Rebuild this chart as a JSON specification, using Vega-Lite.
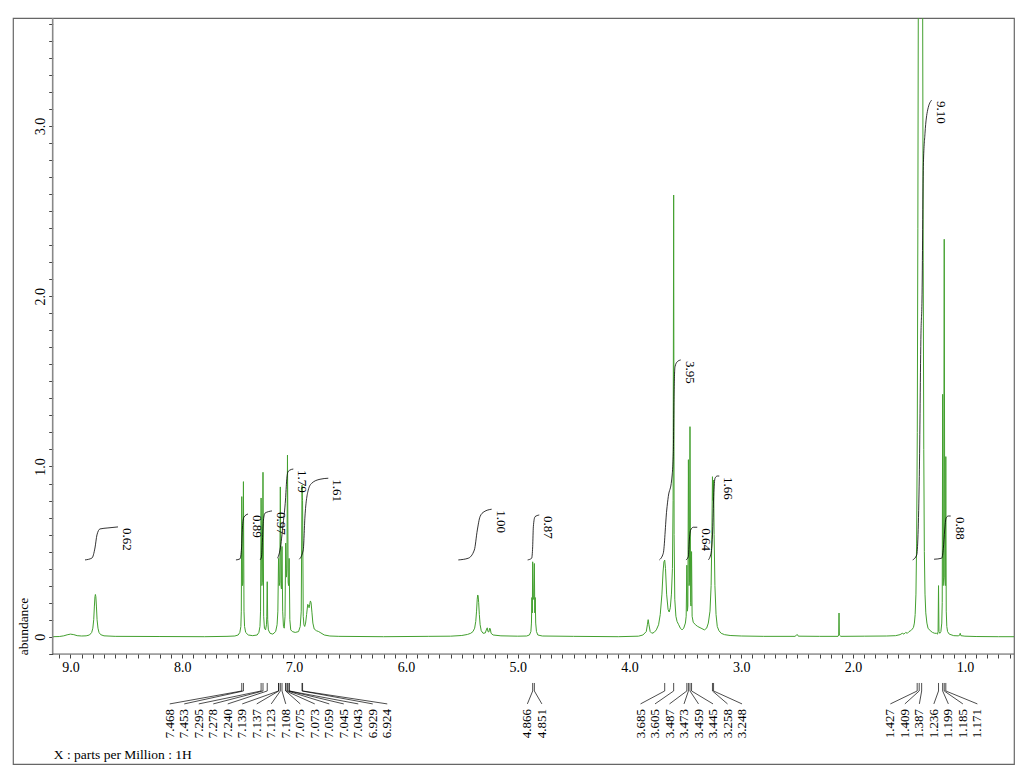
{
"$schema": "https://vega.github.io/schema/vega-lite/v6.json",
"width": 1001, "height": 746,
"autosize": {"type": "none"},
"padding": {"left": 13, "top": 18, "right": 10, "bottom": 13},
"background": "white",
"resolve": {"axis": {"x": "independent", "y": "independent"}},
"config": {
 "view": {"stroke": "#666", "strokeWidth": 1.2},
 "axis": {"grid": false, "domain": false, "tickColor": "#444", "tickWidth": 1, "tickSize": 4, "labelFont": "Liberation Serif", "labelFontSize": 14, "labelColor": "#000", "titleFont": "Liberation Serif", "titleFontSize": 13.5, "titleFontWeight": "normal", "titleColor": "#000", "labelOverlap": false, "labelFlush": false, "labelBound": false}
},
"datasets": {
 "spec": [
  {"p":9.159,"v":0},{"p":9.10,"v":0.001},{"p":9.06,"v":0.005},{"p":9.03,"v":0.011},{"p":9.00,"v":0.015},{"p":8.97,"v":0.012},{"p":8.94,"v":0.006},{"p":8.90,"v":0.004},{"p":8.86,"v":0.005},{"p":8.83,"v":0.01},{"p":8.81,"v":0.025},{"p":8.80,"v":0.05},{"p":8.792,"v":0.1},{"p":8.786,"v":0.18},{"p":8.781,"v":0.235},{"p":8.777,"v":0.248},{"p":8.773,"v":0.235},{"p":8.768,"v":0.18},{"p":8.762,"v":0.1},{"p":8.754,"v":0.05},{"p":8.745,"v":0.025},{"p":8.73,"v":0.012},{"p":8.70,"v":0.005},{"p":8.60,"v":0.002},{"p":8.2,"v":0.001},{"p":7.8,"v":0},{"p":7.6,"v":0.002},{"p":7.53,"v":0.004},{"p":7.50,"v":0.01},{"p":7.485,"v":0.025},{"p":7.476,"v":0.06},{"p":7.472,"v":0.15},{"p":7.468,"v":0.823},{"p":7.462,"v":0.3},{"p":7.458,"v":0.32},{"p":7.453,"v":0.911},{"p":7.448,"v":0.15},{"p":7.443,"v":0.06},{"p":7.433,"v":0.025},{"p":7.41,"v":0.01},{"p":7.37,"v":0.006},{"p":7.33,"v":0.01},{"p":7.315,"v":0.025},{"p":7.305,"v":0.06},{"p":7.300,"v":0.15},{"p":7.295,"v":0.815},{"p":7.288,"v":0.3},{"p":7.284,"v":0.32},{"p":7.278,"v":0.966},{"p":7.272,"v":0.12},{"p":7.265,"v":0.05},{"p":7.255,"v":0.04},{"p":7.247,"v":0.07},{"p":7.244,"v":0.12},{"p":7.240,"v":0.323},{"p":7.236,"v":0.1},{"p":7.230,"v":0.04},{"p":7.215,"v":0.02},{"p":7.19,"v":0.015},{"p":7.165,"v":0.03},{"p":7.152,"v":0.07},{"p":7.145,"v":0.15},{"p":7.139,"v":0.46},{"p":7.133,"v":0.3},{"p":7.128,"v":0.32},{"p":7.123,"v":0.88},{"p":7.117,"v":0.3},{"p":7.113,"v":0.28},{"p":7.108,"v":0.53},{"p":7.102,"v":0.15},{"p":7.095,"v":0.06},{"p":7.088,"v":0.05},{"p":7.081,"v":0.12},{"p":7.075,"v":0.55},{"p":7.068,"v":0.35},{"p":7.064,"v":0.4},{"p":7.059,"v":1.067},{"p":7.053,"v":0.32},{"p":7.049,"v":0.3},{"p":7.044,"v":0.46},{"p":7.038,"v":0.1},{"p":7.03,"v":0.04},{"p":7.015,"v":0.03},{"p":6.99,"v":0.025},{"p":6.96,"v":0.03},{"p":6.945,"v":0.06},{"p":6.936,"v":0.15},{"p":6.929,"v":0.89},{"p":6.926,"v":0.82},{"p":6.924,"v":0.8},{"p":6.918,"v":0.12},{"p":6.912,"v":0.07},{"p":6.905,"v":0.06},{"p":6.897,"v":0.08},{"p":6.888,"v":0.13},{"p":6.878,"v":0.19},{"p":6.872,"v":0.185},{"p":6.866,"v":0.17},{"p":6.860,"v":0.19},{"p":6.854,"v":0.21},{"p":6.848,"v":0.2},{"p":6.840,"v":0.14},{"p":6.832,"v":0.08},{"p":6.82,"v":0.045},{"p":6.80,"v":0.035},{"p":6.78,"v":0.03},{"p":6.76,"v":0.022},{"p":6.73,"v":0.01},{"p":6.68,"v":0.004},{"p":6.6,"v":0.002},{"p":6.2,"v":0},{"p":5.8,"v":0.002},{"p":5.6,"v":0.003},{"p":5.5,"v":0.007},{"p":5.45,"v":0.013},{"p":5.42,"v":0.02},{"p":5.40,"v":0.03},{"p":5.385,"v":0.05},{"p":5.375,"v":0.09},{"p":5.368,"v":0.15},{"p":5.362,"v":0.22},{"p":5.358,"v":0.245},{"p":5.354,"v":0.24},{"p":5.349,"v":0.2},{"p":5.343,"v":0.13},{"p":5.336,"v":0.07},{"p":5.326,"v":0.035},{"p":5.31,"v":0.02},{"p":5.29,"v":0.022},{"p":5.278,"v":0.045},{"p":5.272,"v":0.052},{"p":5.266,"v":0.03},{"p":5.258,"v":0.028},{"p":5.250,"v":0.05},{"p":5.245,"v":0.045},{"p":5.238,"v":0.02},{"p":5.22,"v":0.01},{"p":5.15,"v":0.005},{"p":5.0,"v":0.003},{"p":4.92,"v":0.004},{"p":4.895,"v":0.01},{"p":4.882,"v":0.03},{"p":4.877,"v":0.08},{"p":4.873,"v":0.23},{"p":4.869,"v":0.14},{"p":4.866,"v":0.44},{"p":4.861,"v":0.22},{"p":4.856,"v":0.22},{"p":4.851,"v":0.43},{"p":4.847,"v":0.14},{"p":4.843,"v":0.23},{"p":4.839,"v":0.08},{"p":4.832,"v":0.03},{"p":4.82,"v":0.01},{"p":4.78,"v":0.004},{"p":4.5,"v":0.002},{"p":4.1,"v":0},{"p":3.92,"v":0.003},{"p":3.88,"v":0.01},{"p":3.85,"v":0.03},{"p":3.840,"v":0.07},{"p":3.833,"v":0.1},{"p":3.826,"v":0.07},{"p":3.815,"v":0.03},{"p":3.80,"v":0.02},{"p":3.78,"v":0.025},{"p":3.76,"v":0.04},{"p":3.74,"v":0.07},{"p":3.725,"v":0.13},{"p":3.71,"v":0.25},{"p":3.70,"v":0.38},{"p":3.692,"v":0.44},{"p":3.685,"v":0.45},{"p":3.678,"v":0.4},{"p":3.668,"v":0.25},{"p":3.655,"v":0.16},{"p":3.645,"v":0.145},{"p":3.635,"v":0.17},{"p":3.625,"v":0.25},{"p":3.616,"v":0.4},{"p":3.610,"v":0.8},{"p":3.605,"v":2.595},{"p":3.601,"v":0.6},{"p":3.595,"v":0.22},{"p":3.585,"v":0.12},{"p":3.575,"v":0.09},{"p":3.56,"v":0.07},{"p":3.545,"v":0.05},{"p":3.53,"v":0.04},{"p":3.515,"v":0.05},{"p":3.50,"v":0.08},{"p":3.493,"v":0.12},{"p":3.487,"v":0.42},{"p":3.482,"v":0.15},{"p":3.478,"v":0.18},{"p":3.473,"v":1.04},{"p":3.467,"v":0.3},{"p":3.464,"v":0.32},{"p":3.459,"v":1.234},{"p":3.453,"v":0.2},{"p":3.45,"v":0.18},{"p":3.445,"v":0.5},{"p":3.44,"v":0.12},{"p":3.43,"v":0.085},{"p":3.41,"v":0.07},{"p":3.39,"v":0.06},{"p":3.36,"v":0.05},{"p":3.33,"v":0.04},{"p":3.31,"v":0.05},{"p":3.295,"v":0.08},{"p":3.28,"v":0.15},{"p":3.27,"v":0.3},{"p":3.263,"v":0.6},{"p":3.258,"v":0.94},{"p":3.253,"v":0.8},{"p":3.248,"v":0.92},{"p":3.243,"v":0.6},{"p":3.236,"v":0.3},{"p":3.226,"v":0.13},{"p":3.215,"v":0.06},{"p":3.20,"v":0.035},{"p":3.18,"v":0.02},{"p":3.15,"v":0.012},{"p":3.10,"v":0.007},{"p":3.0,"v":0.004},{"p":2.8,"v":0.002},{"p":2.52,"v":0.002},{"p":2.505,"v":0.01},{"p":2.498,"v":0.012},{"p":2.49,"v":0.003},{"p":2.3,"v":0.002},{"p":2.135,"v":0.002},{"p":2.129,"v":0.01},{"p":2.126,"v":0.139},{"p":2.123,"v":0.01},{"p":2.11,"v":0.002},{"p":1.9,"v":0.003},{"p":1.7,"v":0.004},{"p":1.62,"v":0.006},{"p":1.58,"v":0.012},{"p":1.56,"v":0.02},{"p":1.545,"v":0.015},{"p":1.53,"v":0.025},{"p":1.515,"v":0.02},{"p":1.50,"v":0.03},{"p":1.485,"v":0.035},{"p":1.47,"v":0.045},{"p":1.46,"v":0.055},{"p":1.452,"v":0.08},{"p":1.445,"v":0.13},{"p":1.438,"v":0.25},{"p":1.432,"v":0.55},{"p":1.426,"v":1.2},{"p":1.421,"v":2.4},{"p":1.417,"v":3.7},{"p":1.412,"v":6},{"p":1.40,"v":8},{"p":1.385,"v":6},{"p":1.378,"v":3.7},{"p":1.373,"v":2.2},{"p":1.368,"v":1.1},{"p":1.363,"v":0.5},{"p":1.357,"v":0.25},{"p":1.35,"v":0.14},{"p":1.34,"v":0.08},{"p":1.33,"v":0.05},{"p":1.31,"v":0.035},{"p":1.29,"v":0.025},{"p":1.27,"v":0.02},{"p":1.255,"v":0.02},{"p":1.245,"v":0.015},{"p":1.240,"v":0.03},{"p":1.236,"v":0.30},{"p":1.232,"v":0.03},{"p":1.225,"v":0.02},{"p":1.215,"v":0.03},{"p":1.207,"v":0.08},{"p":1.203,"v":0.2},{"p":1.199,"v":1.424},{"p":1.195,"v":0.3},{"p":1.19,"v":0.35},{"p":1.185,"v":2.335},{"p":1.18,"v":0.35},{"p":1.175,"v":0.3},{"p":1.171,"v":1.058},{"p":1.167,"v":0.15},{"p":1.162,"v":0.06},{"p":1.155,"v":0.03},{"p":1.14,"v":0.015},{"p":1.10,"v":0.006},{"p":1.06,"v":0.005},{"p":1.048,"v":0.008},{"p":1.042,"v":0.02},{"p":1.036,"v":0.006},{"p":1.0,"v":0.003},{"p":0.9,"v":0.001},{"p":0.7,"v":0},{"p":0.561,"v":0}
 ],
 "ints": [
  {"i":"0.62","p":8.870,"v":0.451},{"i":"0.62","p":8.808,"v":0.462},{"i":"0.62","p":8.781,"v":0.521},{"i":"0.62","p":8.763,"v":0.598},{"i":"0.62","p":8.736,"v":0.633},{"i":"0.62","p":8.665,"v":0.639},{"i":"0.62","p":8.575,"v":0.645},
  {"i":"0.89","p":7.520,"v":0.451},{"i":"0.89","p":7.484,"v":0.457},{"i":"0.89","p":7.470,"v":0.521},{"i":"0.89","p":7.462,"v":0.639},{"i":"0.89","p":7.448,"v":0.703},{"i":"0.89","p":7.412,"v":0.721},
  {"i":"0.97","p":7.305,"v":0.451},{"i":"0.97","p":7.292,"v":0.468},{"i":"0.97","p":7.283,"v":0.568},{"i":"0.97","p":7.274,"v":0.685},{"i":"0.97","p":7.260,"v":0.726},{"i":"0.97","p":7.198,"v":0.739},
  {"i":"1.79","p":7.147,"v":0.461},{"i":"1.79","p":7.126,"v":0.509},{"i":"1.79","p":7.097,"v":0.668},{"i":"1.79","p":7.077,"v":0.803},{"i":"1.79","p":7.066,"v":0.921},{"i":"1.79","p":7.055,"v":0.968},{"i":"1.79","p":7.037,"v":0.979},{"i":"1.79","p":7.007,"v":0.985},
  {"i":"1.61","p":6.953,"v":0.455},{"i":"1.61","p":6.918,"v":0.509},{"i":"1.61","p":6.903,"v":0.703},{"i":"1.61","p":6.873,"v":0.862},{"i":"1.61","p":6.843,"v":0.901},{"i":"1.61","p":6.768,"v":0.925},{"i":"1.61","p":6.694,"v":0.931},
  {"i":"1.00","p":5.531,"v":0.451},{"i":"1.00","p":5.442,"v":0.461},{"i":"1.00","p":5.388,"v":0.509},{"i":"1.00","p":5.361,"v":0.627},{"i":"1.00","p":5.337,"v":0.705},{"i":"1.00","p":5.301,"v":0.734},{"i":"1.00","p":5.233,"v":0.749},
  {"i":"0.87","p":4.911,"v":0.451},{"i":"0.87","p":4.875,"v":0.461},{"i":"0.87","p":4.866,"v":0.529},{"i":"0.87","p":4.860,"v":0.646},{"i":"0.87","p":4.845,"v":0.705},{"i":"0.87","p":4.807,"v":0.715},
  {"i":"3.95","p":3.733,"v":0.451},{"i":"3.95","p":3.698,"v":0.490},{"i":"3.95","p":3.667,"v":0.744},{"i":"3.95","p":3.653,"v":0.823},{"i":"3.95","p":3.623,"v":0.921},{"i":"3.95","p":3.608,"v":1.078},{"i":"3.95","p":3.602,"v":1.410},{"i":"3.95","p":3.593,"v":1.586},{"i":"3.95","p":3.572,"v":1.616},{"i":"3.95","p":3.542,"v":1.626},
  {"i":"0.64","p":3.495,"v":0.451},{"i":"0.64","p":3.474,"v":0.470},{"i":"0.64","p":3.465,"v":0.568},{"i":"0.64","p":3.453,"v":0.627},{"i":"0.64","p":3.429,"v":0.643},{"i":"0.64","p":3.394,"v":0.643},
  {"i":"1.66","p":3.295,"v":0.451},{"i":"1.66","p":3.271,"v":0.490},{"i":"1.66","p":3.256,"v":0.627},{"i":"1.66","p":3.247,"v":0.823},{"i":"1.66","p":3.235,"v":0.931},{"i":"1.66","p":3.215,"v":0.944},{"i":"1.66","p":3.197,"v":0.944},
  {"i":"9.10","p":1.467,"v":0.451},{"i":"9.10","p":1.431,"v":0.480},{"i":"9.10","p":1.408,"v":0.940},{"i":"9.10","p":1.393,"v":1.783},{"i":"9.10","p":1.384,"v":1.978},{"i":"9.10","p":1.372,"v":2.762},{"i":"9.10","p":1.357,"v":2.958},{"i":"9.10","p":1.333,"v":3.095},{"i":"9.10","p":1.297,"v":3.153},
  {"i":"0.88","p":1.276,"v":0.455},{"i":"0.88","p":1.208,"v":0.461},{"i":"0.88","p":1.193,"v":0.519},{"i":"0.88","p":1.181,"v":0.627},{"i":"0.88","p":1.169,"v":0.696},{"i":"0.88","p":1.149,"v":0.709},{"i":"0.88","p":1.127,"v":0.709}
 ],
 "peaks": [
  {"g":1,"p":7.468},{"g":1,"p":7.453},{"g":1,"p":7.295},{"g":1,"p":7.278},{"g":1,"p":7.240},{"g":1,"p":7.139},{"g":1,"p":7.137},{"g":1,"p":7.123},{"g":1,"p":7.108},{"g":1,"p":7.075},{"g":1,"p":7.073},{"g":1,"p":7.059},{"g":1,"p":7.045},{"g":1,"p":7.043},{"g":1,"p":6.929},{"g":1,"p":6.924},
  {"g":2,"p":4.866},{"g":2,"p":4.851},
  {"g":3,"p":3.685},{"g":3,"p":3.605},{"g":3,"p":3.487},{"g":3,"p":3.473},{"g":3,"p":3.459},{"g":3,"p":3.445},{"g":3,"p":3.258},{"g":3,"p":3.248},
  {"g":4,"p":1.427},{"g":4,"p":1.409},{"g":4,"p":1.387},{"g":4,"p":1.236},{"g":4,"p":1.199},{"g":4,"p":1.185},{"g":4,"p":1.171}
 ]
},
"layer": [
 {
  "data": {"name": "spec"},
  "mark": {"type": "line", "color": "#43a02f", "strokeWidth": 1, "clip": true},
  "encoding": {
   "x": {"field": "p", "type": "quantitative",
    "scale": {"domain": [0.561, 9.514], "reverse": true, "nice": false, "zero": false},
    "axis": {"orient": "bottom", "offset": -110, "labelOverlap": false, "labelFlush": false, "labelBound": false,
     "values": [9.1,9,8.9,8.8,8.7,8.6,8.5,8.4,8.3,8.2,8.1,8,7.9,7.8,7.7,7.6,7.5,7.4,7.3,7.2,7.1,7,6.9,6.8,6.7,6.6,6.5,6.4,6.3,6.2,6.1,6,5.9,5.8,5.7,5.6,5.5,5.4,5.3,5.2,5.1,5,4.9,4.8,4.7,4.6,4.5,4.4,4.3,4.2,4.1,4,3.9,3.8,3.7,3.6,3.5,3.4,3.3,3.2,3.1,3,2.9,2.8,2.7,2.6,2.5,2.4,2.3,2.2,2.1,2,1.9,1.8,1.7,1.6,1.5,1.4,1.3,1.2,1.1,1,0.9,0.8,0.7,0.6],
     "labelExpr": "abs(datum.value - round(datum.value)) < 0.001 ? format(datum.value, '.1f') : ''",
     "labelPadding": 2, "labelBaseline": "top",
     "title": "X : parts per Million : 1H", "titleX": 40.3, "titleY": 104, "titleAlign": "left", "titleBaseline": "alphabetic"}},
   "y": {"field": "v", "type": "quantitative",
    "scale": {"domain": [-0.748, 3.635], "nice": false, "zero": false},
    "axis": {"orient": "left", "offset": -39.7, "labelOverlap": false, "labelFlush": false, "labelBound": false,
     "values": [-0.1,0,0.1,0.2,0.3,0.4,0.5,0.6,0.7,0.8,0.9,1,1.1,1.2,1.3,1.4,1.5,1.6,1.7,1.8,1.9,2,2.1,2.2,2.3,2.4,2.5,2.6,2.7,2.8,2.9,3,3.1,3.2,3.3,3.4,3.5,3.6],
     "labelExpr": "datum.value == 0 ? '0' : (abs(datum.value - round(datum.value)) < 0.001 ? format(datum.value, '.1f') : '')",
     "labelAngle": 270, "labelAlign": "center", "labelBaseline": "bottom", "labelPadding": 1,
     "title": "abundance", "titleX": -29.7, "titleY": 608, "titleAngle": 270, "titleAlign": "center", "titleBaseline": "middle"}}
  }
 },
 {
  "data": {"values": [{}]},
  "mark": {"type": "rule", "color": "#888", "strokeWidth": 1.6},
  "encoding": {
   "x": {"datum": 9.159, "type": "quantitative", "axis": null},
   "y": {"datum": -0.102, "type": "quantitative", "axis": null},
   "y2": {"datum": 3.635}
  }
 },
 {
  "data": {"values": [{}]},
  "mark": {"type": "rule", "color": "#555", "strokeWidth": 1},
  "encoding": {
   "x": {"datum": 9.159, "type": "quantitative", "axis": null},
   "x2": {"datum": 0.561},
   "y": {"datum": -0.102, "type": "quantitative", "axis": null}
  }
 },
 {
  "data": {"name": "ints"},
  "mark": {"type": "line", "color": "#000", "strokeWidth": 0.8, "interpolate": "monotone"},
  "encoding": {
   "x": {"field": "p", "type": "quantitative", "axis": null},
   "y": {"field": "v", "type": "quantitative", "axis": null},
   "detail": {"field": "i"}
  }
 },
 {
  "data": {"name": "ints"},
  "transform": [{"aggregate": [{"op": "argmin", "field": "p", "as": "e"}], "groupby": ["i"]}],
  "mark": {"type": "text", "angle": 90, "align": "left", "baseline": "middle", "dx": 1, "dy": -9, "font": "Liberation Serif", "fontSize": 13, "color": "#000"},
  "encoding": {
   "x": {"field": "e.p", "type": "quantitative", "axis": null},
   "y": {"field": "e.v", "type": "quantitative", "axis": null},
   "text": {"field": "i"}
  }
 },
 {
  "data": {"name": "peaks"},
  "transform": [
   {"joinaggregate": [{"op": "mean", "field": "p", "as": "gc"}, {"op": "count", "as": "gn"}], "groupby": ["g"]},
   {"window": [{"op": "row_number", "as": "gi"}], "groupby": ["g"], "sort": [{"field": "p", "order": "descending"}]},
   {"calculate": "datum.gc - 0.01 - (datum.gi - (datum.gn + 1) / 2) * 0.1297", "as": "lx"}
  ],
  "layer": [
   {
    "mark": {"type": "rule", "color": "#000", "strokeWidth": 0.7},
    "encoding": {
     "x": {"field": "p", "type": "quantitative", "axis": null},
     "y": {"datum": -0.272, "type": "quantitative", "axis": null},
     "y2": {"datum": -0.319}
    }
   },
   {
    "mark": {"type": "rule", "color": "#000", "strokeWidth": 0.7},
    "encoding": {
     "x": {"field": "p", "type": "quantitative", "axis": null},
     "x2": {"field": "lx"},
     "y": {"datum": -0.319, "type": "quantitative", "axis": null},
     "y2": {"datum": -0.395}
    }
   },
   {
    "mark": {"type": "text", "angle": 270, "align": "right", "baseline": "middle", "font": "Liberation Serif", "fontSize": 13, "color": "#000"},
    "encoding": {
     "x": {"field": "lx", "type": "quantitative", "axis": null},
     "y": {"datum": -0.425, "type": "quantitative", "axis": null},
     "text": {"field": "p", "type": "quantitative", "format": ".3f"}
    }
   }
  ]
 }
]
}
